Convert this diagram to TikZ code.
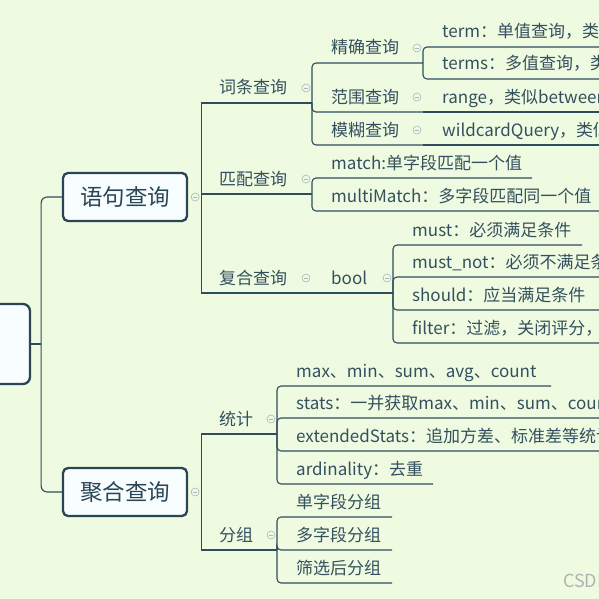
\documentclass[tikz,border=0pt]{standalone}
\usepackage{fontspec}
\setmainfont{Noto Sans CJK SC}
\usetikzlibrary{calc}
\definecolor{bg}{HTML}{EFFBE1}
\definecolor{ln}{HTML}{2E4D5C}
\definecolor{tx}{HTML}{34505E}
\definecolor{bx}{HTML}{2A4654}
\definecolor{foldc}{HTML}{A9B5BF}
\definecolor{boxfill}{HTML}{F8FDFF}
\tikzset{
  lbl/.style={inner sep=0pt, text=tx, font=\fontsize{17}{19}\selectfont},
  conn/.style={draw=ln, line width=1.1pt},
  rconn/.style={conn, rounded corners=4pt},
  topbox/.style={draw=bx, line width=2.3pt, fill=boxfill, rounded corners=5pt,
    minimum width=124pt, minimum height=48pt, inner sep=0pt, text=bx,
    font=\fontsize{22.5}{24}\selectfont},
  rootbox/.style={draw=bx, line width=2.3pt, fill=boxfill, rounded corners=7pt,
    minimum width=80pt, minimum height=80pt, inner sep=0pt},
  fold/.style={circle, draw=foldc, fill=bg, minimum size=8pt, inner sep=0pt, line width=0.6pt,
    path picture={\draw[foldc, line width=0.6pt]
      ([xshift=-2pt]path picture bounding box.center) -- ([xshift=2pt]path picture bounding box.center);}},
  wm/.style={inner sep=0pt, text=gray!60, font=\fontsize{18}{20}\selectfont, anchor=base west}
}
% name, trunk x, underline y, underline end x, text
\newcommand\mmnode[5]{%
  \coordinate (#1-l) at (#2,#3);
  \coordinate (#1-r) at (#4,#3);
  \node[lbl, anchor=base west] (#1) at ({#2+19},{#3-9}) {#5};
}
\newcommand\mmfold[1]{\node[fold] (f-#1) at ($(#1-r)+(-6,-15)$) {};}
\begin{document}
\begin{tikzpicture}[x=1pt,y=-1pt]
\fill[bg] (0,0) rectangle (599,599);
\useasboundingbox (0,0) rectangle (599,599);

% root and top boxes
\node[rootbox] (R) at (-10,344) {};
\node[topbox] (A) at (125,197) {语句查询};
\node[topbox] (B) at (125,492) {聚合查询};
\coordinate (Rj) at ($(R.east)+(10,0)$);
\draw[conn] (R.east) -- (Rj);
\draw[conn, rounded corners=6pt] (Rj) |- (A.west);
\draw[conn, rounded corners=6pt] (Rj) |- (B.west);
\coordinate (A-t) at ($(A.east)+(13,0)$);
\coordinate (B-t) at ($(B.east)+(13,0)$);

% level 1 under A
\mmnode{ct}{200}{103}{312}{词条查询}
\mmnode{pp}{200}{194}{312}{匹配查询}
\mmnode{fh}{200}{293}{312}{复合查询}
% under ct
\mmnode{jq}{312}{63}{423}{精确查询}
\mmnode{fw}{312}{112}{423}{范围查询}
\mmnode{mh}{312}{145}{423}{模糊查询}
\mmnode{term}{423}{47}{640}{term：单值查询，类似sql中的=}
\mmnode{terms}{423}{79}{640}{terms：多值查询，类似sql中的in}
\mmnode{range}{423}{112}{640}{range，类似between...and...}
\mmnode{wild}{423}{145}{640}{wildcardQuery，类似sql中的like}
% under pp
\mmnode{match}{312}{178}{532}{match:单字段匹配一个值}
\mmnode{multi}{312}{211}{640}{multiMatch：多字段匹配同一个值}
% under fh
\mmnode{bool}{312}{293}{393}{bool}
\mmnode{must}{393}{245}{582}{must：必须满足条件}
\mmnode{mustnot}{393}{277}{640}{must\_not：必须不满足条件}
\mmnode{should}{393}{310}{640}{should：应当满足条件}
\mmnode{filter}{393}{343}{640}{filter：过滤，关闭评分，提高查询效率}
% level 1 under B
\mmnode{tj}{200}{434}{277}{统计}
\mmnode{fz}{200}{550}{277}{分组}
\mmnode{max}{277}{386}{551}{max、min、sum、avg、count}
\mmnode{stats}{277}{418}{640}{stats：一并获取max、min、sum、count、avg}
\mmnode{ext}{277}{451}{640}{extendedStats：追加方差、标准差等统计指标}
\mmnode{card}{277}{484}{433}{ardinality：去重}
\mmnode{dz}{277}{517}{392}{单字段分组}
\mmnode{duo}{277}{550}{392}{多字段分组}
\mmnode{sx}{277}{583}{392}{筛选后分组}

% connectors level 1 (sharp)
\foreach \c in {ct,pp,fh} {\draw[conn] (A-t) |- (\c-r);}
\foreach \c in {tj,fz} {\draw[conn] (B-t) |- (\c-r);}
% deeper connectors (rounded)
\foreach \c in {jq,fw,mh} {\draw[rconn] (ct-r) |- (\c-r);}
\draw[rconn] (jq-r) |- (term-r);
\draw[rconn] (jq-r) |- (terms-r);
\draw[rconn] (fw-r) -- (range-r);
\draw[rconn] (mh-r) -- (wild-r);
\foreach \c in {match,multi} {\draw[rconn] (pp-r) |- (\c-r);}
\draw[rconn] (fh-r) -- (bool-r);
\foreach \c in {must,mustnot,should,filter} {\draw[rconn] (bool-r) |- (\c-r);}
\foreach \c in {max,stats,ext,card} {\draw[rconn] (tj-r) |- (\c-r);}
\foreach \c in {dz,duo,sx} {\draw[rconn] (fz-r) |- (\c-r);}

% fold markers
\node[fold] (fA) at ($(A.east)+(7,0)$) {};
\node[fold] (fB) at ($(B.east)+(7,0)$) {};
\foreach \c in {ct,pp,fh,jq,fw,mh,bool,tj,fz} {\mmfold{\c}}

\node[wm] (wmk) at (563,587) {CSDN @};
\end{tikzpicture}
\end{document}
